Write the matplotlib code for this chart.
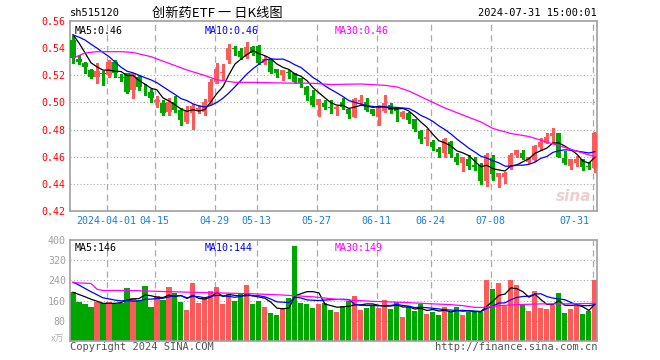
import pandas as pd
import matplotlib.pyplot as plt
from matplotlib.transforms import blended_transform_factory

# daily bars of sh515120, last 88 sessions up to 2024-07-31
opens = [0.546, 0.532, 0.529, 0.524, 0.519, 0.522, 0.520, 0.530, 0.519, 0.5215,
         0.509, 0.519, 0.5087, 0.508, 0.5005, 0.4993, 0.4932, 0.5005, 0.4944, 0.4855,
         0.4925, 0.4945, 0.4932, 0.5005, 0.5153, 0.5215, 0.5313, 0.5404, 0.5381, 0.5337,
         0.5411, 0.5416, 0.5293, 0.5318, 0.5246, 0.5202, 0.5222, 0.5215, 0.5178, 0.5116,
         0.5047, 0.4981, 0.4998, 0.4965, 0.4949, 0.5005, 0.4949, 0.4895, 0.5000, 0.5003,
         0.4949, 0.4895, 0.4939, 0.4981, 0.4956, 0.4890, 0.4924, 0.4876, 0.4791, 0.4728,
         0.4710, 0.4654, 0.4630, 0.4708, 0.4600, 0.4556, 0.4581, 0.4539, 0.4539, 0.4423,
         0.4588, 0.4453, 0.4453, 0.4531, 0.4612, 0.4624, 0.4563, 0.4579, 0.4674, 0.4703,
         0.4753, 0.4773, 0.4588, 0.4531, 0.4556, 0.4581, 0.4531, 0.4518]
highs = [0.549, 0.535, 0.530, 0.525, 0.529, 0.523, 0.531, 0.531, 0.521, 0.522,
         0.522, 0.520, 0.5135, 0.510, 0.505, 0.5015, 0.503, 0.505, 0.496, 0.4975,
         0.499, 0.498, 0.5026, 0.517, 0.5287, 0.5284, 0.543, 0.5415, 0.540, 0.5448,
         0.5415, 0.542, 0.534, 0.532, 0.525, 0.524, 0.524, 0.522, 0.518, 0.512,
         0.5088, 0.5023, 0.502, 0.5018, 0.4975, 0.5035, 0.4955, 0.503, 0.5052, 0.503,
         0.4955, 0.4975, 0.5052, 0.4998, 0.496, 0.4935, 0.493, 0.488, 0.4795, 0.4806,
         0.4725, 0.4675, 0.4735, 0.4715, 0.4625, 0.460, 0.461, 0.460, 0.4555, 0.4627,
         0.461, 0.4483, 0.449, 0.4625, 0.465, 0.465, 0.460, 0.469, 0.4735, 0.4775,
         0.481, 0.4775, 0.464, 0.4585, 0.4605, 0.4585, 0.456, 0.478]
lows = [0.529, 0.528, 0.522, 0.518, 0.514, 0.513, 0.519, 0.519, 0.516, 0.507,
        0.503, 0.509, 0.5055, 0.500, 0.497, 0.4907, 0.4907, 0.4932, 0.4835, 0.4845,
        0.4805, 0.492, 0.491, 0.499, 0.514, 0.5175, 0.5287, 0.535, 0.532, 0.5325,
        0.535, 0.528, 0.5285, 0.5215, 0.519, 0.5165, 0.518, 0.5141, 0.5116, 0.5018,
        0.4975, 0.490, 0.4955, 0.492, 0.4905, 0.4955, 0.4888, 0.489, 0.4985, 0.4935,
        0.4905, 0.4835, 0.493, 0.492, 0.4864, 0.4885, 0.485, 0.479, 0.470, 0.469,
        0.4647, 0.4597, 0.460, 0.460, 0.4545, 0.4497, 0.451, 0.450, 0.440, 0.4386,
        0.443, 0.4375, 0.441, 0.451, 0.460, 0.458, 0.4555, 0.457, 0.465, 0.470,
        0.470, 0.4595, 0.455, 0.451, 0.453, 0.450, 0.451, 0.449]
closes = [0.533, 0.530, 0.526, 0.519, 0.523, 0.521, 0.530, 0.522, 0.518, 0.508,
          0.5215, 0.5116, 0.5082, 0.503, 0.5018, 0.492, 0.5005, 0.4944, 0.487, 0.4935,
          0.4975, 0.4958, 0.5005, 0.5153, 0.5244, 0.5222, 0.5399, 0.5396, 0.5337, 0.5411,
          0.5362, 0.5293, 0.5318, 0.5227, 0.5215, 0.5239, 0.5215, 0.5153, 0.5141, 0.5055,
          0.4981, 0.5023, 0.4968, 0.4960, 0.4968, 0.4968, 0.4915, 0.5023, 0.5018, 0.4944,
          0.4915, 0.4964, 0.4998, 0.4944, 0.4939, 0.4932, 0.4870, 0.4806, 0.4730, 0.4747,
          0.4669, 0.4635, 0.4728, 0.4620, 0.4563, 0.4595, 0.4531, 0.4522, 0.4423, 0.4612,
          0.4472, 0.4483, 0.4483, 0.4612, 0.4649, 0.4588, 0.4595, 0.4679, 0.4711, 0.4747,
          0.4773, 0.4601, 0.4556, 0.4581, 0.4581, 0.4522, 0.4522, 0.4778]
volumes = [196, 156, 145, 136, 156, 152, 156, 145, 152, 208,
           172, 163, 217, 136, 180, 164, 212, 189, 156, 121,
           228, 149, 176, 200, 212, 145, 188, 157, 189, 220,
           145, 160, 133, 109, 104, 132, 172, 376, 152, 145,
           132, 148, 152, 124, 113, 139, 160, 180, 124, 132,
           137, 132, 164, 128, 153, 96, 135, 120, 145, 108,
           116, 104, 135, 113, 135, 104, 113, 116, 116, 240,
           204, 228, 140, 240, 223, 145, 120, 200, 132, 128,
           144, 192, 112, 128, 137, 108, 119, 240]

# sessions just before the window (only feed the MA5 / MA10 start)
prev_closes = [0.546, 0.547, 0.550, 0.552, 0.553, 0.560, 0.562, 0.556, 0.538]
prev_volumes = [270, 280, 265, 275, 275, 200, 190, 185, 194]

# MA30 lines
ma30_idx = [0, 2, 4, 8, 10, 13, 16, 19, 22, 24, 27, 30, 35, 40, 43, 48, 52, 54,
            56, 59, 62, 65, 68, 70, 73, 76, 79, 82, 85, 87]
ma30_price = [0.5327, 0.5364, 0.5374, 0.5374, 0.5368, 0.5337, 0.5288, 0.5239, 0.5198,
              0.5167, 0.5148, 0.5148, 0.5143, 0.5141, 0.5132, 0.5136, 0.5126, 0.5114,
              0.5084, 0.5021, 0.4959, 0.4907, 0.4856, 0.4808, 0.4771, 0.4749, 0.4708,
              0.4668, 0.4627, 0.4600]
ma30_vol_idx = [0, 3, 4, 5, 10, 15, 20, 25, 30, 35, 40, 44, 50, 55, 60, 63, 65, 67,
                69, 71, 74, 78, 82, 87]
ma30_vol = [231, 228, 205, 200, 200, 196, 193, 190, 187, 182, 175, 165, 157, 153,
            147, 144, 140, 133, 133, 140, 144, 147, 147, 149]

date_idx = [6, 14, 24, 31, 41, 51, 60, 70, 87]
date_labels = ["2024-04-01", "04-15", "04-29", "05-13", "05-27",
               "06-11", "06-24", "07-08", "07-31"]
price_ticks = [0.42, 0.44, 0.46, 0.48, 0.50, 0.52, 0.54, 0.56]
vol_ticks = [80, 160, 240, 320, 400]

RED = "#ff5a5a"
GREEN = "#00a600"
GRID = "#aaaaaa"
MONO = "DejaVu Sans Mono"
CJK = ["Noto Sans CJK SC", "DejaVu Sans"]

n = len(closes)
x = list(range(n))
up = [c >= o for o, c in zip(opens, closes)]
colors = [RED if u else GREEN for u in up]

cl = pd.Series(prev_closes + closes)
ma5 = cl.rolling(5).mean().iloc[len(prev_closes):].values
ma10 = cl.rolling(10).mean().iloc[len(prev_closes):].values
vs = pd.Series(prev_volumes + volumes)
vma5 = vs.rolling(5).mean().iloc[len(prev_volumes):].values
vma10 = vs.rolling(10).mean().iloc[len(prev_volumes):].values

W, H = 660, 360
fig = plt.figure(figsize=(W / 100, H / 100), dpi=100)
fig.patch.set_facecolor("white")


def box(l, t, r, b):
    return [l / W, 1 - b / H, (r - l) / W, (b - t) / H]


ax = fig.add_axes(box(70, 21, 597, 211))
axv = fig.add_axes(box(70, 240, 597, 341))

for a in (ax, axv):
    a.set_xlim(-0.5, 87.35)
    for s in a.spines.values():
        s.set_color("#a0a0a0")
        s.set_linewidth(1.2)
    a.tick_params(length=0)
    a.set_xticks([])
    for d in date_idx:
        a.axvline(d - 0.4, color=GRID, ls=(0, (5, 3.5)), lw=0.9, zorder=0)

# price panel
ax.set_ylim(0.42, 0.56)
for p in price_ticks[1:-1]:
    ax.axhline(p, color=GRID, ls=(0, (1, 2)), lw=0.8, zorder=0)
ax.set_yticks(price_ticks)
ax.set_yticklabels([f"{p:.2f}" for p in price_ticks], color="#ff0000",
                   fontsize=7.2, family=MONO)
ax.tick_params(axis="y", pad=3)

ax.vlines(x, lows, highs, colors=colors, lw=0.8, zorder=2, antialiased=False)
body_low = [min(o, c) for o, c in zip(opens, closes)]
body_h = [max(abs(c - o), 0.0004) for o, c in zip(opens, closes)]
ax.bar(x, body_h, bottom=body_low, width=0.84, color=colors, zorder=3,
       antialiased=False, linewidth=0)

ax.plot(x, ma5, color="black", lw=0.9, zorder=4)
ax.plot(x, ma10, color="#0000ff", lw=0.9, zorder=4)
ax.plot(ma30_idx, ma30_price, color="#ff00ff", lw=0.9, zorder=4)

ax.text(5 / 527, 1 - 5 / 190, f"MA5:{ma5[-1]:.2f}", transform=ax.transAxes,
        ha="left", va="top", fontsize=7.2, family=MONO, color="black")
ax.text(135 / 527, 1 - 5 / 190, f"MA10:{ma10[-1]:.2f}", transform=ax.transAxes,
        ha="left", va="top", fontsize=7.2, family=MONO, color="#0000ff")
ax.text(265 / 527, 1 - 5 / 190, f"MA30:{ma30_price[-1]:.2f}", transform=ax.transAxes,
        ha="left", va="top", fontsize=7.2, family=MONO, color="#ff00ff")
ax.text(0.955, 0.075, "sina", transform=ax.transAxes, ha="center", va="center",
        fontsize=11, style="italic", weight="bold", color="#ecd0d0", zorder=1)

tr = blended_transform_factory(ax.transData, ax.transAxes)
for d, lab in zip(date_idx, date_labels):
    last = d == date_idx[-1]
    ax.annotate(lab, (d - 0.4, 0), xycoords=tr, xytext=(-2 if last else 0, -7.5),
                textcoords="offset points", ha="right" if last else "center",
                va="center", fontsize=7.2, family=MONO, color="#1a7fd6")

# volume panel
axv.set_ylim(0, 400)
for v in vol_ticks[:-1]:
    axv.axhline(v, color=GRID, ls=(0, (1, 2)), lw=0.8, zorder=0)
axv.set_yticks(vol_ticks)
axv.set_yticklabels([str(v) for v in vol_ticks], color="#a0a0a0",
                    fontsize=7.2, family=MONO)
axv.tick_params(axis="y", pad=3)
axv.bar(x, volumes, width=0.84, color=colors, zorder=2, antialiased=False,
        linewidth=0)
axv.plot(x, vma5, color="black", lw=0.9, zorder=3)
axv.plot(x, vma10, color="#0000ff", lw=0.9, zorder=3)
axv.plot(ma30_vol_idx, ma30_vol, color="#ff00ff", lw=0.9, zorder=3)

axv.text(5 / 527, 1 - 3 / 101, f"MA5:{vma5[-1]:.0f}", transform=axv.transAxes,
         ha="left", va="top", fontsize=7.2, family=MONO, color="black")
axv.text(135 / 527, 1 - 3 / 101, f"MA10:{vma10[-1]:.0f}", transform=axv.transAxes,
         ha="left", va="top", fontsize=7.2, family=MONO, color="#0000ff")
axv.text(265 / 527, 1 - 3 / 101, f"MA30:{ma30_vol[-1]:.0f}", transform=axv.transAxes,
         ha="left", va="top", fontsize=7.2, family=MONO, color="#ff00ff")

# header and footer
fig.text(70 / W, 1 - 13 / H, "sh515120", ha="left", va="center",
         fontsize=7.5, family=MONO)
fig.text(152 / W, 1 - 13 / H, "创新药ETF 一 日K线图", ha="left", va="center",
         fontsize=9.5, family=CJK)
fig.text(597 / W, 1 - 13 / H, "2024-07-31 15:00:01", ha="right", va="center",
         fontsize=7.5, family=MONO)
fig.text(64 / W, 1 - 339 / H, "x万", ha="right", va="center",
         fontsize=6.5, family=CJK, color="#b0b0b0")
fig.text(70 / W, 1 - 347 / H, "Copyright 2024 SINA.COM", ha="left", va="center",
         fontsize=7.5, family=MONO, color="#555555")
fig.text(597 / W, 1 - 347 / H, "http://finance.sina.com.cn", ha="right",
         va="center", fontsize=7.5, family=MONO, color="#555555")

fig.savefig("out.png", dpi=100)
